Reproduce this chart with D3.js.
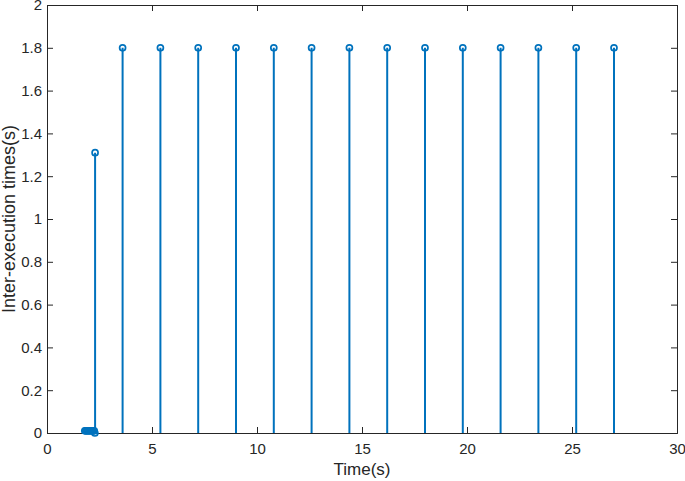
<!DOCTYPE html>
<html>
<head>
<meta charset="utf-8">
<script src="https://cdn.jsdelivr.net/npm/d3@7"></script>
<style>
  body { margin: 0; background: #fff; }
  text { font-family: "Liberation Sans", Arial, sans-serif; fill: #262626; }
</style>
</head>
<body>
<svg id="chart"></svg>
<script>
// execution instants (s) and the inter-execution time measured at each one
const times = [1.80, 1.85, 1.90, 1.95, 2.00, 2.05, 2.10, 2.15, 2.20, 2.25, 2.28,
               2.29, 3.6, 5.4, 7.2, 9.0, 10.8, 12.6, 14.4, 16.2, 18.0, 19.8, 21.6, 23.4, 25.2, 27.0];
const interTimes = [0.01, 0.01, 0.01, 0.01, 0.01, 0.01, 0.01, 0.01, 0.01, 0.01, 0.0,
                    1.31, 1.8, 1.8, 1.8, 1.8, 1.8, 1.8, 1.8, 1.8, 1.8, 1.8, 1.8, 1.8, 1.8, 1.8];
const xTicks = [0, 5, 10, 15, 20, 25, 30];
const yTicks = [0, 0.2, 0.4, 0.6, 0.8, 1, 1.2, 1.4, 1.6, 1.8, 2];

const config = {
    width: 685,
    height: 481,
    margin: {top: 5, right: 8, bottom: 48, left: 47}
};

const data = times.map((t, i) => ({t: t, v: interTimes[i]}));

const svg = d3.select('#chart')
    .attr('width', config.width)
    .attr('height', config.height);

const w = config.width - config.margin.left - config.margin.right;
const h = config.height - config.margin.top - config.margin.bottom;

const chart = svg.append('g')
    .attr('transform', `translate(${config.margin.left},${config.margin.top})`);

const xScale = d3.scaleLinear().domain([0, 30]).range([0, w]);
const yScale = d3.scaleLinear().domain([0, 2]).range([h, 0]);

const axisColor = '#262626';
const tickLen = 6;

// bottom and left axes, ticks pointing inward
const xAxis = chart.append('g')
    .attr('transform', `translate(0,${h})`)
    .call(d3.axisBottom(xScale).tickValues(xTicks).tickSize(-tickLen).tickPadding(10).tickFormat(d3.format('d')));

const yAxis = chart.append('g')
    .call(d3.axisLeft(yScale).tickValues(yTicks).tickSize(-tickLen).tickPadding(5).tickFormat(d => d3.format('~g')(d)));

// top and right axes without labels (box)
const xTop = chart.append('g')
    .call(d3.axisTop(xScale).tickValues(xTicks).tickSize(-tickLen).tickFormat(''));

const yRight = chart.append('g')
    .attr('transform', `translate(${w},0)`)
    .call(d3.axisRight(yScale).tickValues(yTicks).tickSize(-tickLen).tickFormat(''));

[xAxis, yAxis, xTop, yRight].forEach(a => {
    a.select('.domain').attr('stroke', axisColor).attr('stroke-width', 1);
    a.selectAll('.tick line').attr('stroke', axisColor).attr('stroke-width', 1);
    a.selectAll('.tick text').style('font-size', '15px').attr('fill', axisColor);
});

// stems
const blue = '#0072BD';
chart.selectAll('.stem')
    .data(data)
    .enter()
    .append('line')
    .attr('class', 'stem')
    .attr('x1', d => xScale(d.t))
    .attr('x2', d => xScale(d.t))
    .attr('y1', yScale(0))
    .attr('y2', d => yScale(d.v))
    .attr('stroke', blue)
    .attr('stroke-width', 2);

// markers
chart.selectAll('.marker')
    .data(data)
    .enter()
    .append('circle')
    .attr('class', 'marker')
    .attr('cx', d => xScale(d.t))
    .attr('cy', d => yScale(d.v))
    .attr('r', 3)
    .attr('fill', 'none')
    .attr('stroke', blue)
    .attr('stroke-width', 1.7);

// axis labels
svg.append('text')
    .attr('x', config.margin.left + w / 2)
    .attr('y', 475)
    .attr('text-anchor', 'middle')
    .style('font-size', '17px')
    .text('Time(s)');

svg.append('text')
    .attr('transform', `translate(15,${config.margin.top + h / 2}) rotate(-90)`)
    .attr('text-anchor', 'middle')
    .style('font-size', '18px')
    .text('Inter-execution times(s)');
</script>
</body>
</html>
